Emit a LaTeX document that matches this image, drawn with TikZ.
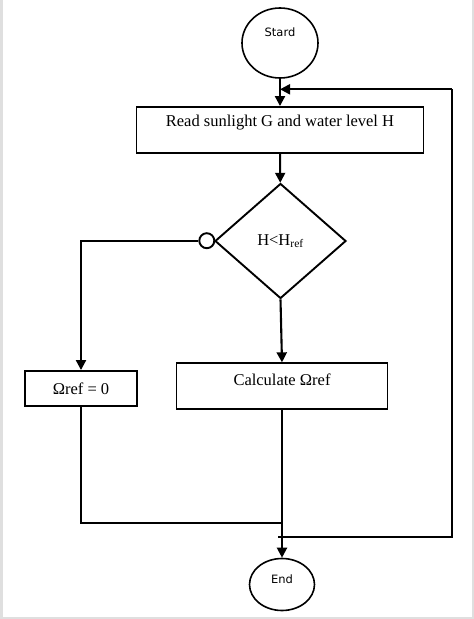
\documentclass[tikz,border=0pt]{standalone}
\usepackage{fontspec}
\setmainfont{Liberation Serif}
\newfontfamily\termfont{DejaVu Sans}
\usetikzlibrary{shapes.geometric,arrows.meta}
\begin{document}
\begin{tikzpicture}[x=1pt,y=-1pt,
    line width=1.9pt,
    term/.style={draw,ellipse,inner sep=0pt,line width=1.6pt,font=\termfont\fontsize{11.5}{14}\selectfont},
    box/.style={draw,rectangle,inner sep=0pt,font=\fontsize{16.5}{20}\selectfont},
    decision/.style={draw,diamond,inner sep=0pt,minimum width=131pt,minimum height=115pt,font=\fontsize{16.5}{20}\selectfont},
    dot/.style={draw,circle,inner sep=0pt,minimum size=15pt},
    arr/.style={line width=2.1pt,-{Triangle[length=10pt,width=10pt]}},
    link/.style={line width=2.1pt}]
    \useasboundingbox (0,0) rectangle (474,619);
    \draw[gray!25,line width=2.5pt] (1.25,0) -- (1.25,617.75) -- (472.75,617.75) -- (472.75,0);
    \node[term,minimum width=76pt,minimum height=70pt,label={[font=\termfont\fontsize{11.5}{14}\selectfont,yshift=11pt]center:Stard}] (start) at (280,43) {};
    \node[box,minimum width=287pt,minimum height=46pt,label={[font=\fontsize{16.5}{20}\selectfont,yshift=7pt]center:Read sunlight G and water level H}] (read) at (280,130) {};
    \node[decision] (cond) at (280.5,241) {H<H\textsubscript{ref}};
    \node[dot] (nob) at (206.8,240.7) {};
    \node[box,minimum width=112pt,minimum height=35pt] (zero) at (81,388.5) {Ωref = 0};
    \node[box,minimum width=211pt,minimum height=46pt,label={[font=\fontsize{16.5}{20}\selectfont,yshift=7pt]center:Calculate Ωref}] (calc) at (282,386.3) {};
    \node[term,minimum width=65pt,minimum height=52pt,label={[font=\termfont\fontsize{11.5}{14}\selectfont,yshift=5pt]center:End}] (end) at (282,584.5) {};
    \coordinate (join) at (282,523.3);
    \coordinate (back) at (278,537.3);
    \coordinate (corner) at (452.3,89.3);
    \coordinate (entry) at (280,89.3);
    \draw[arr] (start) -- (read);
    \draw[arr] (read) -- (cond);
    \draw[arr] (nob.west) -| (zero.north);
    \draw[arr] (cond.south) -- (calc.north);
    \draw[link] (zero.south) |- (join);
    \draw[arr] (calc.south) -- (end.north);
    \draw[link] (back) -| (corner);
    \draw[arr] (corner) -- (entry);
\end{tikzpicture}
\end{document}
